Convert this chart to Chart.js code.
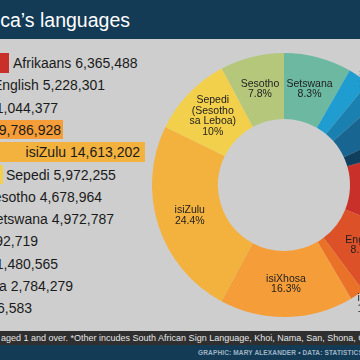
<!DOCTYPE html>
<html><head><meta charset="utf-8">
<script src="https://cdn.jsdelivr.net/npm/chart.js@4.4.1/dist/chart.umd.min.js"></script>
<style>
html,body{margin:0;padding:0;width:360px;height:360px;overflow:hidden;background:#cecece;font-family:"Liberation Sans",Arial,sans-serif;}
#wrap{position:relative;width:360px;height:360px;overflow:hidden;background:#cecece;}
#header{position:absolute;left:0;top:0;width:360px;height:39px;background:#143b56;}
#title{position:absolute;right:230px;top:7px;color:#fff;font-size:19.5px;line-height:26px;white-space:nowrap;}
#note{position:absolute;left:0;top:331px;width:360px;height:14px;background:#2f2f2f;color:#e6e6e6;font-size:9px;line-height:14px;white-space:nowrap;overflow:hidden;}
#note span{position:absolute;left:1px;top:0;}
#footer{position:absolute;left:0;top:345px;width:360px;height:15px;background:#143b56;color:#9fb4c6;font-size:6.5px;font-weight:bold;letter-spacing:0.15px;line-height:15px;white-space:nowrap;overflow:hidden;}
#footer span{position:absolute;left:198px;top:0;}
.row{position:absolute;height:22px;line-height:22px;font-size:14px;color:#1b1b1b;white-space:nowrap;}
.box{position:absolute;}
#chart{position:absolute;left:0;top:0;}
</style>
</head>
<body>
<div id="wrap">
  <div id="header"><div id="title">South Africa’s languages</div></div>
  <div id="rows"></div>
  <canvas id="chart" width="420" height="360"></canvas>
  <div id="note"><span>aged 1 and over. *Other incudes South African Sign Language, Khoi, Nama, San, Shona, Chinese and others</span></div>
  <div id="footer"><span>GRAPHIC: MARY ALEXANDER • DATA: STATISTICS SOUTH AFRICA</span></div>
</div>
<script>
// ---- data ----
const languages = ['Afrikaans','English','isiNdebele','isiXhosa','isiZulu','Sepedi','Sesotho','Setswana','siSwati','Tshivenda','Xitsonga','Other*'];
const speakers  = [6365488, 5228301, 1044377, 9786928, 14613202, 5972255, 4678964, 4972787, 1592719, 1480565, 2784279, 1416583];
const sliceNames  = [['Afrikaans'],['English'],['isiNdebele'],['isiXhosa'],['isiZulu'],['Sepedi','(Sesotho','sa Leboa)'],['Sesotho'],['Setswana'],['siSwati'],['Tshivenda'],['Xitsonga'],['Other*']];
const sliceShares = ['10.6%','8.7%','1.7%','16.3%','24.4%','10%','7.8%','8.3%','2.7%','2.5%','4.6%','2.4%'];

// ---- styles / layout ----
const colours = ['#c9302a','#dc5127','#ea7228','#f59d38','#f3b13e','#f3d04b','#b5c77b','#6cb8a0','#1f9dd1','#1a80b0','#176590','#0f3f5c'];
const rowTop0 = 63, rowStep = 22.3;
// per row: [textLeft or null, textRight or null, boxRight or null]
const rowLayout = [[13,null,8.7],[null,105,null],[null,58,null],[null,61,63],[null,140,145],[6,null,3],[null,102,null],[null,114,null],[null,38,null],[null,58,null],[null,73,null],[null,32,null]];

const rowsEl = document.getElementById('rows');
languages.forEach((lang,i)=>{
  const cy = rowTop0 + rowStep*i;
  const [tl,tr,br] = rowLayout[i];
  if (br !== null){
    const b = document.createElement('div');
    b.className='box';
    b.style.left = (br-200)+'px'; b.style.width='200px';
    b.style.top = (cy-10)+'px'; b.style.height='19.5px';
    b.style.background = colours[i];
    rowsEl.appendChild(b);
  }
  const r = document.createElement('div');
  r.className='row';
  r.textContent = lang + ' ' + speakers[i].toLocaleString('en-US');
  r.style.top = (cy-11)+'px';
  if (tl!==null) r.style.left = tl+'px'; else r.style.right = (360-tr)+'px';
  rowsEl.appendChild(r);
});

const total = speakers.reduce((a,b)=>a+b,0);
const before = speakers.slice(0, languages.indexOf('Setswana')).reduce((a,b)=>a+b,0);
const rotation = 360 - before/total*360;

const sliceLabelPlugin = {
  id:'sliceLabels',
  afterDatasetsDraw(chart){
    const ctx = chart.ctx;
    const meta = chart.getDatasetMeta(0);
    ctx.save();
    ctx.fillStyle = '#1e1e1e';
    ctx.font = '10.5px "Liberation Sans", Arial, sans-serif';
    const lh = 10.5;
    meta.data.forEach((arc,i)=>{
      const p = arc.getProps(['x','y','startAngle','endAngle','innerRadius','outerRadius'], true);
      const mid = (p.startAngle+p.endAngle)/2;
      const lines = sliceNames[i].concat([sliceShares[i]]);
      const share = speakers[i]/total;
      if (share < 0.05){
        const r = p.outerRadius + 4;
        const x = p.x + Math.cos(mid)*r - 2, y = p.y + Math.sin(mid)*r;
        ctx.textAlign='left'; ctx.textBaseline='middle';
        lines.forEach((t,k)=>ctx.fillText(t, x, y + k*lh));
      } else {
        const r = (p.innerRadius + p.outerRadius)/2;
        const x = p.x + Math.cos(mid)*r, y = p.y + Math.sin(mid)*r;
        ctx.textAlign='center'; ctx.textBaseline='middle';
        const y0 = y - (lines.length-1)*lh/2;
        lines.forEach((t,k)=>ctx.fillText(t, x, y0 + k*lh));
      }
    });
    ctx.restore();
  }
};

new Chart(document.getElementById('chart'), {
  type:'doughnut',
  data:{ labels: languages, datasets:[{ data: speakers, backgroundColor: colours, borderWidth:0, hoverOffset:0 }]},
  options:{
    responsive:false, animation:false, devicePixelRatio:1,
    cutout:'50%', rotation: rotation,
    layout:{ padding:{ left:152, top:53, right:4, bottom:43 } },
    plugins:{ legend:{display:false}, tooltip:{enabled:false} },
    events:[]
  },
  plugins:[sliceLabelPlugin]
});
</script>
</body></html>
